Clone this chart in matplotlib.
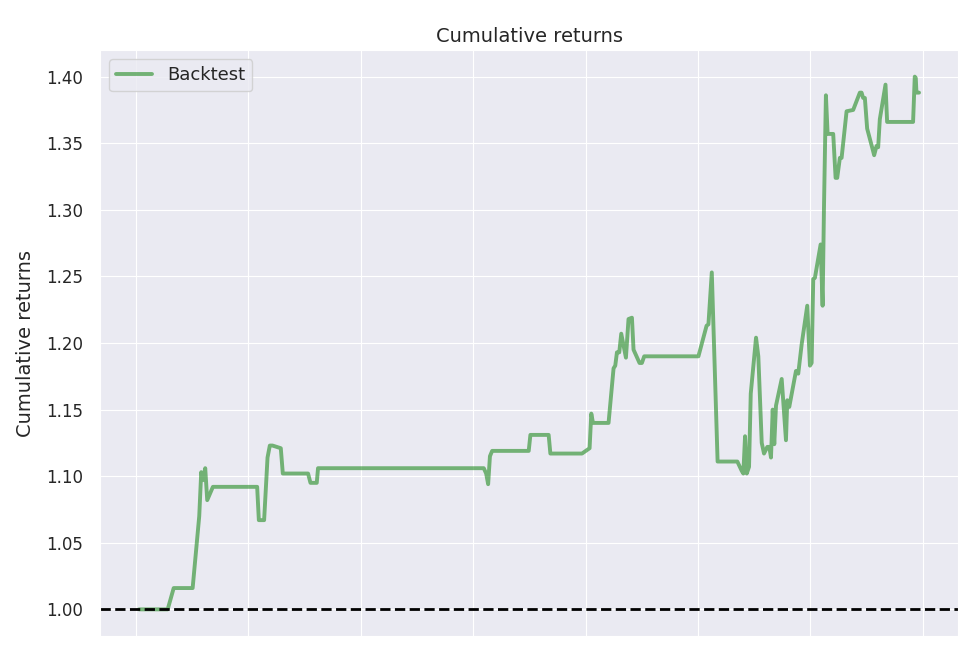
import numpy as np
import matplotlib
matplotlib.use("Agg")
import matplotlib.pyplot as plt
import seaborn as sns

# trading day index (approx.) and cumulative return of the backtest
days = [0.80, 8.45, 10.05, 15.11, 16.87, 17.40, 17.86, 18.47, 19.00, 20.52,
        32.33, 32.78, 34.19, 35.10, 35.71, 36.43, 38.64, 39.18, 45.92, 46.56,
        48.24, 48.58, 92.82, 93.46, 93.99, 94.47, 95.06, 104.82, 105.27, 110.14,
        110.60, 119.04, 121.07, 121.52, 121.98, 126.13, 127.47, 127.92, 128.37, 128.99,
        129.52, 130.77, 131.46, 132.37, 132.80, 134.40, 135.03, 135.65, 150.12, 152.30,
        152.79, 153.69, 155.24, 160.51, 161.68, 162.11, 162.57, 163.02, 163.63, 164.09,
        165.50, 166.11, 167.02, 167.63, 168.51, 169.04, 169.49, 169.95, 170.37, 170.83,
        172.35, 173.49, 173.84, 174.37, 176.16, 176.77, 177.68, 179.17, 179.89, 180.34,
        180.77, 181.22, 182.74, 183.27, 183.62, 184.15, 184.61, 186.10, 186.74, 187.17,
        187.88, 188.34, 189.67, 191.43, 193.21, 193.67, 194.09, 194.55, 195.16, 196.76,
        197.03, 197.67, 198.10, 198.54, 200.06, 200.49, 207.42, 207.87, 208.14, 208.32,
        209.01]
cum_returns = [1.000, 1.000, 1.016, 1.016, 1.070, 1.103, 1.097, 1.106, 1.082, 1.092,
               1.092, 1.067, 1.067, 1.114, 1.123, 1.123, 1.121, 1.102, 1.102, 1.095,
               1.095, 1.106, 1.106, 1.102, 1.094, 1.115, 1.119, 1.119, 1.131, 1.131,
               1.117, 1.117, 1.121, 1.147, 1.140, 1.140, 1.181, 1.183, 1.193, 1.193,
               1.207, 1.189, 1.218, 1.219, 1.195, 1.185, 1.185, 1.190, 1.190, 1.213,
               1.214, 1.253, 1.111, 1.111, 1.104, 1.102, 1.130, 1.102, 1.107, 1.162,
               1.204, 1.190, 1.125, 1.117, 1.122, 1.122, 1.114, 1.150, 1.124, 1.153,
               1.173, 1.127, 1.157, 1.152, 1.179, 1.177, 1.199, 1.228, 1.183, 1.185,
               1.248, 1.249, 1.274, 1.228, 1.299, 1.386, 1.357, 1.357, 1.324, 1.324,
               1.339, 1.339, 1.374, 1.375, 1.388, 1.388, 1.384, 1.384, 1.361, 1.344,
               1.341, 1.348, 1.347, 1.368, 1.394, 1.366, 1.366, 1.400, 1.399, 1.388,
               1.388]
grid_days = [0, 30, 60, 90, 120, 150, 180, 210]

sns.set_style("darkgrid")
plt.rcParams['font.family'] = ['DejaVu Sans']

fig = plt.figure(figsize=(9.75, 6.47), dpi=100)
ax = fig.add_subplot(111)
fig.subplots_adjust(left=0.1026, right=0.9826, top=0.9227, bottom=0.017)

ax.plot(days, cum_returns, lw=2.8, color='forestgreen', alpha=0.6, label='Backtest')
ax.axhline(1.0, linestyle='--', color='black', lw=2)

ax.set_xticks(grid_days)
ax.set_xticklabels([])
ax.set_yticks(np.arange(1.0, 1.401, 0.05))
ax.yaxis.set_major_formatter(matplotlib.ticker.FormatStrFormatter('%.2f'))
ax.tick_params(axis='y', labelsize=12, colors='.15', pad=12, length=0)
ax.set_ylabel('Cumulative returns', fontsize=14, color='.15', labelpad=8)
ax.set_title('Cumulative returns', fontsize=14, color='.15')
ax.legend(loc='upper left', fontsize=13, frameon=True)

fig.savefig("out.png", dpi=100)
